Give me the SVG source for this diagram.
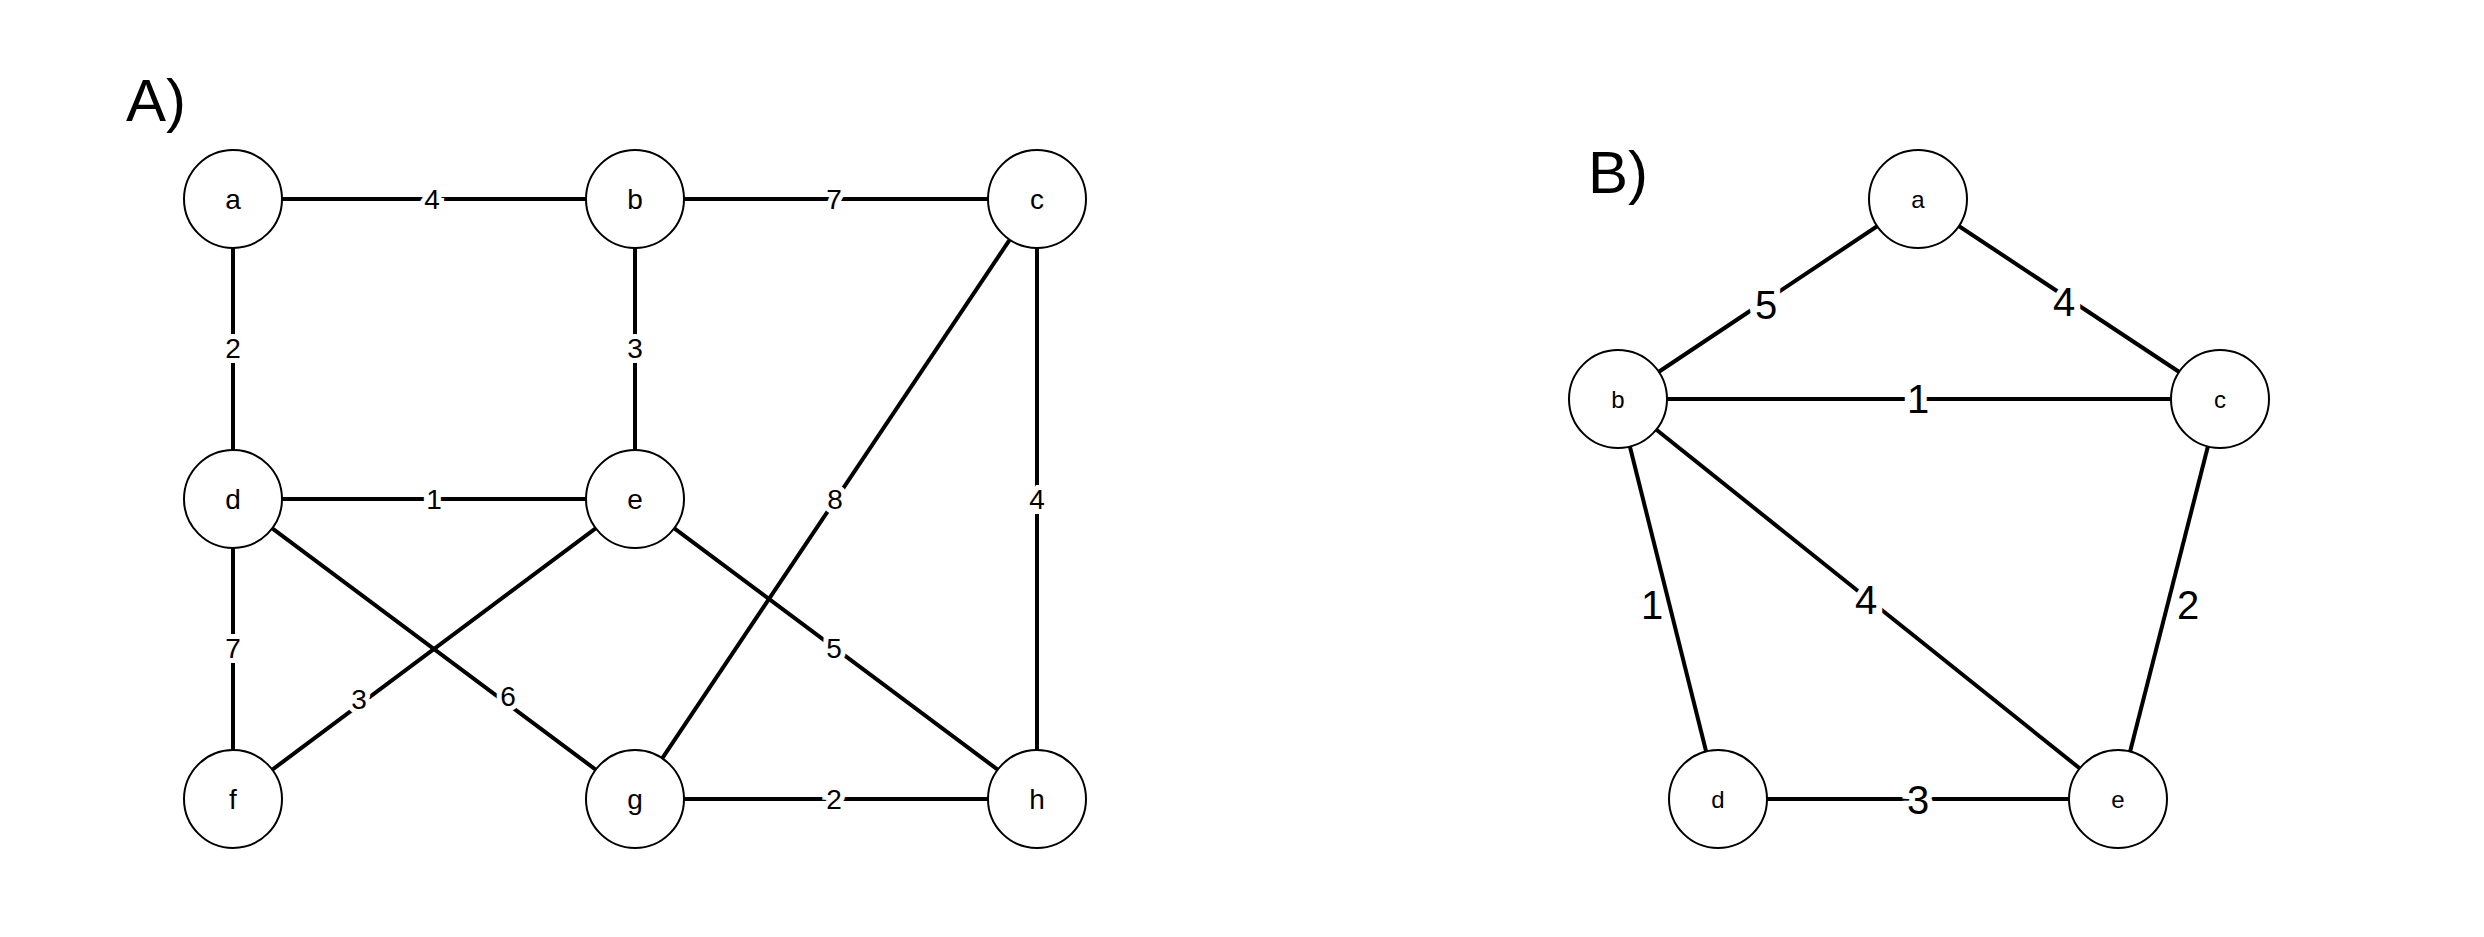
<svg xmlns="http://www.w3.org/2000/svg" width="2484" height="937" viewBox="0 0 2484 937">
<style>
.e{stroke:#000;stroke-width:4;fill:none}
.n circle{fill:#fff;stroke:#000;stroke-width:2}
text{font-family:"Liberation Sans",Arial,sans-serif;text-anchor:middle;dominant-baseline:central}
.n text{font-size:28px}
.l{font-size:28px;stroke:#fff;stroke-width:10;paint-order:stroke;fill:#000}
.L{font-size:40px;stroke:#fff;stroke-width:12;paint-order:stroke;fill:#000}
.t{font-size:60px;text-anchor:start}
.m text{font-size:24px}
</style>
<rect width="2484" height="937" fill="#fff"/>
<text class="t" x="126" y="100">A)</text>
<text class="t" x="1588" y="172">B)</text>
<g id="connectors">
<line class="e" x1="233" y1="199" x2="635" y2="199"/>
<line class="e" x1="635" y1="199" x2="1037" y2="199"/>
<line class="e" x1="233" y1="199" x2="233" y2="499"/>
<line class="e" x1="635" y1="199" x2="635" y2="499"/>
<line class="e" x1="1037" y1="199" x2="1037" y2="799"/>
<line class="e" x1="1037" y1="199" x2="635" y2="799"/>
<line class="e" x1="233" y1="499" x2="635" y2="499"/>
<line class="e" x1="233" y1="499" x2="233" y2="799"/>
<line class="e" x1="233" y1="499" x2="635" y2="799"/>
<line class="e" x1="635" y1="499" x2="233" y2="799"/>
<line class="e" x1="635" y1="499" x2="1037" y2="799"/>
<line class="e" x1="635" y1="799" x2="1037" y2="799"/>
<text class="l" x="432" y="199">4</text>
<text class="l" x="834" y="199">7</text>
<text class="l" x="233" y="348">2</text>
<text class="l" x="635" y="348">3</text>
<text class="l" x="1037" y="499">4</text>
<text class="l" x="835" y="499">8</text>
<text class="l" x="434" y="499">1</text>
<text class="l" x="233" y="648">7</text>
<text class="l" x="359" y="699">3</text>
<text class="l" x="508" y="696">6</text>
<text class="l" x="834" y="648">5</text>
<text class="l" x="834" y="799">2</text>
<line class="e" x1="1918" y1="199" x2="1618" y2="399"/>
<line class="e" x1="1918" y1="199" x2="2220" y2="399"/>
<line class="e" x1="1618" y1="399" x2="2220" y2="399"/>
<line class="e" x1="1618" y1="399" x2="1718" y2="799"/>
<line class="e" x1="1618" y1="399" x2="2118" y2="799"/>
<line class="e" x1="2220" y1="399" x2="2118" y2="799"/>
<line class="e" x1="1718" y1="799" x2="2118" y2="799"/>
<text class="L" x="1766" y="305">5</text>
<text class="L" x="2064" y="302">4</text>
<text class="L" x="1918" y="399">1</text>
<text class="L" x="1652" y="605">1</text>
<text class="L" x="1866" y="600">4</text>
<text class="L" x="2188" y="605">2</text>
<text class="L" x="1918" y="800">3</text>
</g>
<g id="a" class="n"><circle cx="233" cy="199" r="49"/><text x="233" y="199">a</text></g>
<g id="b" class="n"><circle cx="635" cy="199" r="49"/><text x="635" y="199">b</text></g>
<g id="c" class="n"><circle cx="1037" cy="199" r="49"/><text x="1037" y="199">c</text></g>
<g id="d" class="n"><circle cx="233" cy="499" r="49"/><text x="233" y="499">d</text></g>
<g id="e" class="n"><circle cx="635" cy="499" r="49"/><text x="635" y="499">e</text></g>
<g id="f" class="n"><circle cx="233" cy="799" r="49"/><text x="233" y="799">f</text></g>
<g id="g" class="n"><circle cx="635" cy="799" r="49"/><text x="635" y="799">g</text></g>
<g id="h" class="n"><circle cx="1037" cy="799" r="49"/><text x="1037" y="799">h</text></g>
<g id="Ba" class="n m"><circle cx="1918" cy="199" r="49"/><text x="1918" y="199">a</text></g>
<g id="Bb" class="n m"><circle cx="1618" cy="399" r="49"/><text x="1618" y="399">b</text></g>
<g id="Bc" class="n m"><circle cx="2220" cy="399" r="49"/><text x="2220" y="399">c</text></g>
<g id="Bd" class="n m"><circle cx="1718" cy="799" r="49"/><text x="1718" y="799">d</text></g>
<g id="Be" class="n m"><circle cx="2118" cy="799" r="49"/><text x="2118" y="799">e</text></g>
</svg>
